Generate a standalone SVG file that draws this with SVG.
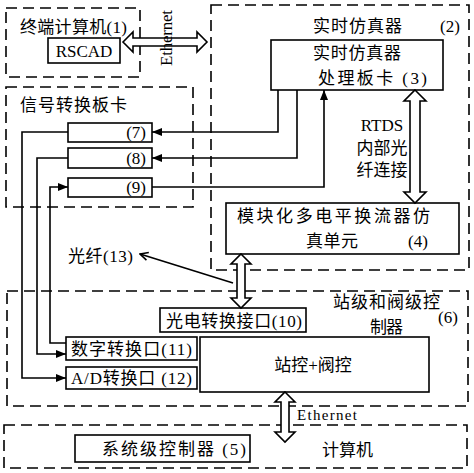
<svg xmlns="http://www.w3.org/2000/svg" width="474" height="473" viewBox="0 0 474 473">
<defs>
<style>
.dash{fill:none;stroke:#000;stroke-width:1.6;stroke-dasharray:11,6}
.box{fill:#fff;stroke:#000;stroke-width:1.6}
.ln{fill:none;stroke:#000;stroke-width:1.6}
.dbl{fill:#fff;stroke:#000;stroke-width:1.6;stroke-linejoin:miter}
text{font-family:"Liberation Serif","Noto Sans CJK SC",serif;font-size:17px;fill:#000}
.sm{font-size:15px}
.vt{font-size:17px}
</style>
<marker id="ah" viewBox="0 0 10 10" refX="10" refY="5" markerWidth="10" markerHeight="10" markerUnits="userSpaceOnUse" orient="auto">
<path d="M0,1 L10,5 L0,9 Z" fill="#000"/>
</marker>
<marker id="open" viewBox="0 0 10 10" refX="9" refY="5" markerWidth="10" markerHeight="10" markerUnits="userSpaceOnUse" orient="auto">
<path d="M1,1 L9,5 L1,9" fill="none" stroke="#000" stroke-width="1.6"/>
</marker>
</defs>
<rect width="474" height="473" fill="#fff"/>

<g id="terminal">
<rect class="dash" x="6" y="8" width="134" height="69"/>
<text x="20" y="33" textLength="107">终端计算机(1)</text>
<rect class="box" x="48" y="38" width="72" height="25"/>
<text x="84" y="57" text-anchor="middle">RSCAD</text>
</g>

<g id="simulator">
<rect class="dash" x="211" y="5" width="258" height="265"/>
<text x="313" y="32" textLength="89">实时仿真器</text>
<text x="440" y="32">(2)</text>
</g>

<g id="board3">
<rect class="box" x="271" y="40" width="172" height="50"/>
<text x="357" y="59" text-anchor="middle" textLength="88">实时仿真器</text>
<text x="318" y="84" textLength="109">处理板卡 (3)</text>
</g>

<g id="signal">
<rect class="dash" x="6" y="87" width="187" height="120"/>
<text x="20" y="111" textLength="107">信号转换板卡</text>
<rect class="box" x="68" y="123" width="84" height="19"/>
<text x="146" y="138" text-anchor="end">(7)</text>
<rect class="box" x="68" y="148" width="84" height="20"/>
<text x="146" y="164" text-anchor="end">(8)</text>
<rect class="box" x="68" y="178" width="84" height="19"/>
<text x="146" y="193" text-anchor="end">(9)</text>
</g>

<g id="mmc">
<rect class="box" x="226" y="203" width="233" height="51"/>
<text x="237" y="222" textLength="193">模块化多电平换流器仿</text>
<text x="306" y="247" textLength="52">真单元</text>
<text x="408" y="247">(4)</text>
</g>

<g id="rtds-label">
<text x="382" y="131" text-anchor="middle">RTDS</text>
<text x="382" y="154" text-anchor="middle">内部光</text>
<text x="382" y="176" text-anchor="middle">纤连接</text>
</g>

<g id="controller">
<rect class="dash" x="7" y="291" width="461" height="115"/>
<text x="333" y="308" textLength="107">站级和阀级控</text>
<text x="370" y="333" textLength="33">制器</text>
<text x="438" y="323">(6)</text>
<rect class="box" x="160" y="308" width="146" height="24"/>
<text x="166" y="327" textLength="136">光电转换接口(10)</text>
<rect class="box" x="200" y="337" width="229" height="55"/>
<text x="313" y="371" text-anchor="middle">站控+阀控</text>
<rect class="box" x="66" y="337" width="131" height="23"/>
<text x="71" y="355" textLength="121">数字转换口(11)</text>
<rect class="box" x="66" y="367" width="131" height="22"/>
<text x="71" y="384" textLength="121">A/D转换口 (12)</text>
</g>

<g id="computer">
<rect class="dash" x="4" y="425" width="463" height="43"/>
<rect class="box" x="75" y="435" width="175" height="27"/>
<text x="102" y="455" textLength="144">系统级控制器 (5)</text>
<text x="322" y="456" textLength="51">计算机</text>
</g>

<g id="fiber-label">
<text x="68" y="262" textLength="65">光纤(13)</text>
</g>

<g id="connectors">
<polygon class="dbl" points="123,42 133,32 133,38 197,38 197,32 207,42 197,52 197,46 133,46 133,52"/>
<text class="vt" transform="translate(172,38) rotate(-90)" text-anchor="middle" textLength="56">Ethernet</text>

<polyline class="ln" points="278,90 278,132 152,132" marker-end="url(#ah)"/>
<polyline class="ln" points="297,90 297,158 152,158" marker-end="url(#ah)"/>
<polyline class="ln" points="152,187 324,187 324,90" marker-end="url(#ah)"/>

<polygon class="dbl" points="415,90 426,101 420,101 420,192 426,192 415,203 404,192 410,192 410,101 404,101"/>

<polyline class="ln" points="68,132 22,132 22,378 66,378" marker-end="url(#ah)"/>
<polyline class="ln" points="68,158 37,158 37,354 66,354" marker-end="url(#ah)"/>
<polyline class="ln" points="66,343 50,343 50,187 68,187" marker-end="url(#ah)"/>

<polygon class="dbl" points="241,254 251,264 245,264 245,298 251,298 241,308 231,298 237,298 237,264 231,264"/>
<line class="ln" x1="233" y1="283" x2="140" y2="254" marker-end="url(#open)"/>

<polygon class="dbl" points="285,392 295,402 289,402 289,432 295,432 285,442 275,432 281,432 281,402 275,402"/>
<text class="sm" x="297" y="420" textLength="60">Ethernet</text>
</g>
</svg>
